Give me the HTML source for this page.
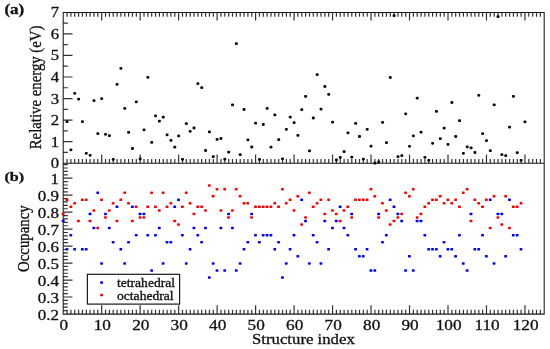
<!DOCTYPE html>
<html><head><meta charset="utf-8"><title>Structure index plot</title>
<style>html,body{margin:0;padding:0;background:#fff}svg{display:block;filter:blur(0.35px)}</style></head>
<body>
<svg width="550" height="349" viewBox="0 0 550 349">
<rect width="550" height="349" fill="#fff"/>
<path d="M67.05 12.4v4.3M67.05 163.2v-4.3M67.05 314.1v-4.3M70.90 12.4v4.3M70.90 163.2v-4.3M70.90 314.1v-4.3M74.74 12.4v4.3M74.74 163.2v-4.3M74.74 314.1v-4.3M78.59 12.4v4.3M78.59 163.2v-4.3M78.59 314.1v-4.3M82.44 12.4v4.3M82.44 163.2v-4.3M82.44 314.1v-4.3M86.29 12.4v4.3M86.29 163.2v-4.3M86.29 314.1v-4.3M90.14 12.4v4.3M90.14 163.2v-4.3M90.14 314.1v-4.3M93.98 12.4v4.3M93.98 163.2v-4.3M93.98 314.1v-4.3M97.83 12.4v4.3M97.83 163.2v-4.3M97.83 314.1v-4.3M101.68 12.4v8.200000000000001M101.68 163.2v-8.8M101.68 314.1v-8.8M105.53 12.4v4.3M105.53 163.2v-4.3M105.53 314.1v-4.3M109.38 12.4v4.3M109.38 163.2v-4.3M109.38 314.1v-4.3M113.22 12.4v4.3M113.22 163.2v-4.3M113.22 314.1v-4.3M117.07 12.4v4.3M117.07 163.2v-4.3M117.07 314.1v-4.3M120.92 12.4v4.3M120.92 163.2v-4.3M120.92 314.1v-4.3M124.77 12.4v4.3M124.77 163.2v-4.3M124.77 314.1v-4.3M128.62 12.4v4.3M128.62 163.2v-4.3M128.62 314.1v-4.3M132.46 12.4v4.3M132.46 163.2v-4.3M132.46 314.1v-4.3M136.31 12.4v4.3M136.31 163.2v-4.3M136.31 314.1v-4.3M140.16 12.4v8.200000000000001M140.16 163.2v-8.8M140.16 314.1v-8.8M144.01 12.4v4.3M144.01 163.2v-4.3M144.01 314.1v-4.3M147.86 12.4v4.3M147.86 163.2v-4.3M147.86 314.1v-4.3M151.70 12.4v4.3M151.70 163.2v-4.3M151.70 314.1v-4.3M155.55 12.4v4.3M155.55 163.2v-4.3M155.55 314.1v-4.3M159.40 12.4v4.3M159.40 163.2v-4.3M159.40 314.1v-4.3M163.25 12.4v4.3M163.25 163.2v-4.3M163.25 314.1v-4.3M167.10 12.4v4.3M167.10 163.2v-4.3M167.10 314.1v-4.3M170.94 12.4v4.3M170.94 163.2v-4.3M170.94 314.1v-4.3M174.79 12.4v4.3M174.79 163.2v-4.3M174.79 314.1v-4.3M178.64 12.4v8.200000000000001M178.64 163.2v-8.8M178.64 314.1v-8.8M182.49 12.4v4.3M182.49 163.2v-4.3M182.49 314.1v-4.3M186.34 12.4v4.3M186.34 163.2v-4.3M186.34 314.1v-4.3M190.18 12.4v4.3M190.18 163.2v-4.3M190.18 314.1v-4.3M194.03 12.4v4.3M194.03 163.2v-4.3M194.03 314.1v-4.3M197.88 12.4v4.3M197.88 163.2v-4.3M197.88 314.1v-4.3M201.73 12.4v4.3M201.73 163.2v-4.3M201.73 314.1v-4.3M205.58 12.4v4.3M205.58 163.2v-4.3M205.58 314.1v-4.3M209.42 12.4v4.3M209.42 163.2v-4.3M209.42 314.1v-4.3M213.27 12.4v4.3M213.27 163.2v-4.3M213.27 314.1v-4.3M217.12 12.4v8.200000000000001M217.12 163.2v-8.8M217.12 314.1v-8.8M220.97 12.4v4.3M220.97 163.2v-4.3M220.97 314.1v-4.3M224.82 12.4v4.3M224.82 163.2v-4.3M224.82 314.1v-4.3M228.66 12.4v4.3M228.66 163.2v-4.3M228.66 314.1v-4.3M232.51 12.4v4.3M232.51 163.2v-4.3M232.51 314.1v-4.3M236.36 12.4v4.3M236.36 163.2v-4.3M236.36 314.1v-4.3M240.21 12.4v4.3M240.21 163.2v-4.3M240.21 314.1v-4.3M244.06 12.4v4.3M244.06 163.2v-4.3M244.06 314.1v-4.3M247.90 12.4v4.3M247.90 163.2v-4.3M247.90 314.1v-4.3M251.75 12.4v4.3M251.75 163.2v-4.3M251.75 314.1v-4.3M255.60 12.4v8.200000000000001M255.60 163.2v-8.8M255.60 314.1v-8.8M259.45 12.4v4.3M259.45 163.2v-4.3M259.45 314.1v-4.3M263.30 12.4v4.3M263.30 163.2v-4.3M263.30 314.1v-4.3M267.14 12.4v4.3M267.14 163.2v-4.3M267.14 314.1v-4.3M270.99 12.4v4.3M270.99 163.2v-4.3M270.99 314.1v-4.3M274.84 12.4v4.3M274.84 163.2v-4.3M274.84 314.1v-4.3M278.69 12.4v4.3M278.69 163.2v-4.3M278.69 314.1v-4.3M282.54 12.4v4.3M282.54 163.2v-4.3M282.54 314.1v-4.3M286.38 12.4v4.3M286.38 163.2v-4.3M286.38 314.1v-4.3M290.23 12.4v4.3M290.23 163.2v-4.3M290.23 314.1v-4.3M294.08 12.4v8.200000000000001M294.08 163.2v-8.8M294.08 314.1v-8.8M297.93 12.4v4.3M297.93 163.2v-4.3M297.93 314.1v-4.3M301.78 12.4v4.3M301.78 163.2v-4.3M301.78 314.1v-4.3M305.62 12.4v4.3M305.62 163.2v-4.3M305.62 314.1v-4.3M309.47 12.4v4.3M309.47 163.2v-4.3M309.47 314.1v-4.3M313.32 12.4v4.3M313.32 163.2v-4.3M313.32 314.1v-4.3M317.17 12.4v4.3M317.17 163.2v-4.3M317.17 314.1v-4.3M321.02 12.4v4.3M321.02 163.2v-4.3M321.02 314.1v-4.3M324.86 12.4v4.3M324.86 163.2v-4.3M324.86 314.1v-4.3M328.71 12.4v4.3M328.71 163.2v-4.3M328.71 314.1v-4.3M332.56 12.4v8.200000000000001M332.56 163.2v-8.8M332.56 314.1v-8.8M336.41 12.4v4.3M336.41 163.2v-4.3M336.41 314.1v-4.3M340.26 12.4v4.3M340.26 163.2v-4.3M340.26 314.1v-4.3M344.10 12.4v4.3M344.10 163.2v-4.3M344.10 314.1v-4.3M347.95 12.4v4.3M347.95 163.2v-4.3M347.95 314.1v-4.3M351.80 12.4v4.3M351.80 163.2v-4.3M351.80 314.1v-4.3M355.65 12.4v4.3M355.65 163.2v-4.3M355.65 314.1v-4.3M359.50 12.4v4.3M359.50 163.2v-4.3M359.50 314.1v-4.3M363.34 12.4v4.3M363.34 163.2v-4.3M363.34 314.1v-4.3M367.19 12.4v4.3M367.19 163.2v-4.3M367.19 314.1v-4.3M371.04 12.4v8.200000000000001M371.04 163.2v-8.8M371.04 314.1v-8.8M374.89 12.4v4.3M374.89 163.2v-4.3M374.89 314.1v-4.3M378.74 12.4v4.3M378.74 163.2v-4.3M378.74 314.1v-4.3M382.58 12.4v4.3M382.58 163.2v-4.3M382.58 314.1v-4.3M386.43 12.4v4.3M386.43 163.2v-4.3M386.43 314.1v-4.3M390.28 12.4v4.3M390.28 163.2v-4.3M390.28 314.1v-4.3M394.13 12.4v4.3M394.13 163.2v-4.3M394.13 314.1v-4.3M397.98 12.4v4.3M397.98 163.2v-4.3M397.98 314.1v-4.3M401.82 12.4v4.3M401.82 163.2v-4.3M401.82 314.1v-4.3M405.67 12.4v4.3M405.67 163.2v-4.3M405.67 314.1v-4.3M409.52 12.4v8.200000000000001M409.52 163.2v-8.8M409.52 314.1v-8.8M413.37 12.4v4.3M413.37 163.2v-4.3M413.37 314.1v-4.3M417.22 12.4v4.3M417.22 163.2v-4.3M417.22 314.1v-4.3M421.06 12.4v4.3M421.06 163.2v-4.3M421.06 314.1v-4.3M424.91 12.4v4.3M424.91 163.2v-4.3M424.91 314.1v-4.3M428.76 12.4v4.3M428.76 163.2v-4.3M428.76 314.1v-4.3M432.61 12.4v4.3M432.61 163.2v-4.3M432.61 314.1v-4.3M436.46 12.4v4.3M436.46 163.2v-4.3M436.46 314.1v-4.3M440.30 12.4v4.3M440.30 163.2v-4.3M440.30 314.1v-4.3M444.15 12.4v4.3M444.15 163.2v-4.3M444.15 314.1v-4.3M448.00 12.4v8.200000000000001M448.00 163.2v-8.8M448.00 314.1v-8.8M451.85 12.4v4.3M451.85 163.2v-4.3M451.85 314.1v-4.3M455.70 12.4v4.3M455.70 163.2v-4.3M455.70 314.1v-4.3M459.54 12.4v4.3M459.54 163.2v-4.3M459.54 314.1v-4.3M463.39 12.4v4.3M463.39 163.2v-4.3M463.39 314.1v-4.3M467.24 12.4v4.3M467.24 163.2v-4.3M467.24 314.1v-4.3M471.09 12.4v4.3M471.09 163.2v-4.3M471.09 314.1v-4.3M474.94 12.4v4.3M474.94 163.2v-4.3M474.94 314.1v-4.3M478.78 12.4v4.3M478.78 163.2v-4.3M478.78 314.1v-4.3M482.63 12.4v4.3M482.63 163.2v-4.3M482.63 314.1v-4.3M486.48 12.4v8.200000000000001M486.48 163.2v-8.8M486.48 314.1v-8.8M490.33 12.4v4.3M490.33 163.2v-4.3M490.33 314.1v-4.3M494.18 12.4v4.3M494.18 163.2v-4.3M494.18 314.1v-4.3M498.02 12.4v4.3M498.02 163.2v-4.3M498.02 314.1v-4.3M501.87 12.4v4.3M501.87 163.2v-4.3M501.87 314.1v-4.3M505.72 12.4v4.3M505.72 163.2v-4.3M505.72 314.1v-4.3M509.57 12.4v4.3M509.57 163.2v-4.3M509.57 314.1v-4.3M513.42 12.4v4.3M513.42 163.2v-4.3M513.42 314.1v-4.3M517.26 12.4v4.3M517.26 163.2v-4.3M517.26 314.1v-4.3M521.11 12.4v4.3M521.11 163.2v-4.3M521.11 314.1v-4.3M524.96 12.4v8.200000000000001M524.96 163.2v-8.8M524.96 314.1v-8.8M528.81 12.4v4.3M528.81 163.2v-4.3M528.81 314.1v-4.3M532.66 12.4v4.3M532.66 163.2v-4.3M532.66 314.1v-4.3M536.50 12.4v4.3M536.50 163.2v-4.3M536.50 314.1v-4.3M540.35 12.4v4.3M540.35 163.2v-4.3M540.35 314.1v-4.3M63.2 152.42h4.6M63.2 141.65h9.3M63.2 130.88h4.6M63.2 120.10h9.3M63.2 109.32h4.6M63.2 98.55h9.3M63.2 87.77h4.6M63.2 77.00h9.3M63.2 66.22h4.6M63.2 55.45h9.3M63.2 44.67h4.6M63.2 33.90h9.3M63.2 23.12h4.6M63.2 310.61h4.6M63.2 307.21h4.6M63.2 303.81h4.6M63.2 300.42h4.6M63.2 297.02h9.3M63.2 293.63h4.6M63.2 290.23h4.6M63.2 286.84h4.6M63.2 283.44h4.6M63.2 280.05h9.3M63.2 276.65h4.6M63.2 273.26h4.6M63.2 269.87h4.6M63.2 266.47h4.6M63.2 263.07h9.3M63.2 259.68h4.6M63.2 256.28h4.6M63.2 252.89h4.6M63.2 249.49h4.6M63.2 246.10h9.3M63.2 242.70h4.6M63.2 239.31h4.6M63.2 235.91h4.6M63.2 232.52h4.6M63.2 229.12h9.3M63.2 225.73h4.6M63.2 222.33h4.6M63.2 218.94h4.6M63.2 215.54h4.6M63.2 212.15h9.3M63.2 208.75h4.6M63.2 205.36h4.6M63.2 201.96h4.6M63.2 198.57h4.6M63.2 195.17h9.3M63.2 191.78h4.6M63.2 188.38h4.6M63.2 184.99h4.6M63.2 181.59h4.6M63.2 178.20h9.3M63.2 174.80h4.6M63.2 171.41h4.6M63.2 168.01h4.6M63.2 164.62h4.6" stroke="#333" stroke-width="1.2" fill="none"/>
<path d="M63.2 12.4H544.2V314.1H63.2Z M63.2 163.2H544.2" stroke="#1a1a1a" stroke-width="1.05" fill="none"/>
<rect x="65.55" y="120.30" width="3.0" height="2.8" rx="1.1" fill="#0a0a0a"/>
<rect x="69.40" y="148.40" width="3.0" height="2.8" rx="1.1" fill="#0a0a0a"/>
<rect x="73.24" y="91.90" width="3.0" height="2.8" rx="1.1" fill="#0a0a0a"/>
<rect x="77.09" y="97.80" width="3.0" height="2.8" rx="1.1" fill="#0a0a0a"/>
<rect x="80.94" y="120.30" width="3.0" height="2.8" rx="1.1" fill="#0a0a0a"/>
<rect x="84.79" y="151.90" width="3.0" height="2.8" rx="1.1" fill="#0a0a0a"/>
<rect x="88.64" y="153.90" width="3.0" height="2.8" rx="1.1" fill="#0a0a0a"/>
<rect x="92.48" y="99.30" width="3.0" height="2.8" rx="1.1" fill="#0a0a0a"/>
<rect x="96.33" y="132.30" width="3.0" height="2.8" rx="1.1" fill="#0a0a0a"/>
<rect x="100.18" y="97.20" width="3.0" height="2.8" rx="1.1" fill="#0a0a0a"/>
<rect x="104.03" y="132.90" width="3.0" height="2.8" rx="1.1" fill="#0a0a0a"/>
<rect x="107.88" y="134.20" width="3.0" height="2.8" rx="1.1" fill="#0a0a0a"/>
<rect x="111.72" y="158.00" width="3.0" height="2.8" rx="1.1" fill="#0a0a0a"/>
<rect x="115.57" y="82.90" width="3.0" height="2.8" rx="1.1" fill="#0a0a0a"/>
<rect x="119.42" y="67.00" width="3.0" height="2.8" rx="1.1" fill="#0a0a0a"/>
<rect x="123.27" y="107.00" width="3.0" height="2.8" rx="1.1" fill="#0a0a0a"/>
<rect x="127.12" y="131.00" width="3.0" height="2.8" rx="1.1" fill="#0a0a0a"/>
<rect x="130.96" y="147.10" width="3.0" height="2.8" rx="1.1" fill="#0a0a0a"/>
<rect x="134.81" y="100.40" width="3.0" height="2.8" rx="1.1" fill="#0a0a0a"/>
<rect x="138.66" y="157.60" width="3.0" height="2.8" rx="1.1" fill="#0a0a0a"/>
<rect x="142.51" y="128.40" width="3.0" height="2.8" rx="1.1" fill="#0a0a0a"/>
<rect x="146.36" y="75.90" width="3.0" height="2.8" rx="1.1" fill="#0a0a0a"/>
<rect x="150.20" y="141.00" width="3.0" height="2.8" rx="1.1" fill="#0a0a0a"/>
<rect x="154.05" y="114.40" width="3.0" height="2.8" rx="1.1" fill="#0a0a0a"/>
<rect x="157.90" y="119.80" width="3.0" height="2.8" rx="1.1" fill="#0a0a0a"/>
<rect x="161.75" y="115.70" width="3.0" height="2.8" rx="1.1" fill="#0a0a0a"/>
<rect x="165.60" y="133.40" width="3.0" height="2.8" rx="1.1" fill="#0a0a0a"/>
<rect x="169.44" y="139.00" width="3.0" height="2.8" rx="1.1" fill="#0a0a0a"/>
<rect x="173.29" y="145.80" width="3.0" height="2.8" rx="1.1" fill="#0a0a0a"/>
<rect x="177.14" y="134.50" width="3.0" height="2.8" rx="1.1" fill="#0a0a0a"/>
<rect x="180.99" y="158.00" width="3.0" height="2.8" rx="1.1" fill="#0a0a0a"/>
<rect x="184.84" y="122.20" width="3.0" height="2.8" rx="1.1" fill="#0a0a0a"/>
<rect x="188.68" y="129.90" width="3.0" height="2.8" rx="1.1" fill="#0a0a0a"/>
<rect x="192.53" y="126.60" width="3.0" height="2.8" rx="1.1" fill="#0a0a0a"/>
<rect x="196.38" y="82.20" width="3.0" height="2.8" rx="1.1" fill="#0a0a0a"/>
<rect x="200.23" y="86.20" width="3.0" height="2.8" rx="1.1" fill="#0a0a0a"/>
<rect x="204.08" y="149.10" width="3.0" height="2.8" rx="1.1" fill="#0a0a0a"/>
<rect x="207.92" y="130.50" width="3.0" height="2.8" rx="1.1" fill="#0a0a0a"/>
<rect x="211.77" y="155.20" width="3.0" height="2.8" rx="1.1" fill="#0a0a0a"/>
<rect x="215.62" y="138.00" width="3.0" height="2.8" rx="1.1" fill="#0a0a0a"/>
<rect x="219.47" y="137.10" width="3.0" height="2.8" rx="1.1" fill="#0a0a0a"/>
<rect x="223.32" y="157.80" width="3.0" height="2.8" rx="1.1" fill="#0a0a0a"/>
<rect x="227.16" y="150.80" width="3.0" height="2.8" rx="1.1" fill="#0a0a0a"/>
<rect x="231.01" y="103.50" width="3.0" height="2.8" rx="1.1" fill="#0a0a0a"/>
<rect x="234.86" y="42.30" width="3.0" height="2.8" rx="1.1" fill="#0a0a0a"/>
<rect x="238.71" y="153.20" width="3.0" height="2.8" rx="1.1" fill="#0a0a0a"/>
<rect x="242.56" y="108.10" width="3.0" height="2.8" rx="1.1" fill="#0a0a0a"/>
<rect x="246.40" y="138.40" width="3.0" height="2.8" rx="1.1" fill="#0a0a0a"/>
<rect x="250.25" y="145.60" width="3.0" height="2.8" rx="1.1" fill="#0a0a0a"/>
<rect x="254.10" y="121.80" width="3.0" height="2.8" rx="1.1" fill="#0a0a0a"/>
<rect x="257.95" y="158.00" width="3.0" height="2.8" rx="1.1" fill="#0a0a0a"/>
<rect x="261.80" y="123.10" width="3.0" height="2.8" rx="1.1" fill="#0a0a0a"/>
<rect x="265.64" y="107.00" width="3.0" height="2.8" rx="1.1" fill="#0a0a0a"/>
<rect x="269.49" y="145.80" width="3.0" height="2.8" rx="1.1" fill="#0a0a0a"/>
<rect x="273.34" y="113.50" width="3.0" height="2.8" rx="1.1" fill="#0a0a0a"/>
<rect x="277.19" y="138.20" width="3.0" height="2.8" rx="1.1" fill="#0a0a0a"/>
<rect x="281.04" y="157.40" width="3.0" height="2.8" rx="1.1" fill="#0a0a0a"/>
<rect x="284.88" y="127.90" width="3.0" height="2.8" rx="1.1" fill="#0a0a0a"/>
<rect x="288.73" y="115.70" width="3.0" height="2.8" rx="1.1" fill="#0a0a0a"/>
<rect x="292.58" y="121.20" width="3.0" height="2.8" rx="1.1" fill="#0a0a0a"/>
<rect x="296.43" y="134.00" width="3.0" height="2.8" rx="1.1" fill="#0a0a0a"/>
<rect x="300.28" y="108.30" width="3.0" height="2.8" rx="1.1" fill="#0a0a0a"/>
<rect x="304.12" y="95.00" width="3.0" height="2.8" rx="1.1" fill="#0a0a0a"/>
<rect x="307.97" y="149.50" width="3.0" height="2.8" rx="1.1" fill="#0a0a0a"/>
<rect x="311.82" y="116.60" width="3.0" height="2.8" rx="1.1" fill="#0a0a0a"/>
<rect x="315.67" y="73.30" width="3.0" height="2.8" rx="1.1" fill="#0a0a0a"/>
<rect x="319.52" y="107.80" width="3.0" height="2.8" rx="1.1" fill="#0a0a0a"/>
<rect x="323.36" y="85.10" width="3.0" height="2.8" rx="1.1" fill="#0a0a0a"/>
<rect x="327.21" y="93.00" width="3.0" height="2.8" rx="1.1" fill="#0a0a0a"/>
<rect x="331.06" y="120.70" width="3.0" height="2.8" rx="1.1" fill="#0a0a0a"/>
<rect x="334.91" y="158.60" width="3.0" height="2.8" rx="1.1" fill="#0a0a0a"/>
<rect x="338.76" y="156.10" width="3.0" height="2.8" rx="1.1" fill="#0a0a0a"/>
<rect x="342.60" y="150.20" width="3.0" height="2.8" rx="1.1" fill="#0a0a0a"/>
<rect x="346.45" y="131.40" width="3.0" height="2.8" rx="1.1" fill="#0a0a0a"/>
<rect x="350.30" y="155.80" width="3.0" height="2.8" rx="1.1" fill="#0a0a0a"/>
<rect x="354.15" y="122.00" width="3.0" height="2.8" rx="1.1" fill="#0a0a0a"/>
<rect x="358.00" y="135.10" width="3.0" height="2.8" rx="1.1" fill="#0a0a0a"/>
<rect x="361.84" y="157.70" width="3.0" height="2.8" rx="1.1" fill="#0a0a0a"/>
<rect x="365.69" y="127.90" width="3.0" height="2.8" rx="1.1" fill="#0a0a0a"/>
<rect x="369.54" y="144.80" width="3.0" height="2.8" rx="1.1" fill="#0a0a0a"/>
<rect x="373.39" y="161.80" width="3.0" height="2.8" rx="1.1" fill="#0a0a0a"/>
<rect x="377.24" y="160.40" width="3.0" height="2.8" rx="1.1" fill="#0a0a0a"/>
<rect x="381.08" y="121.00" width="3.0" height="2.8" rx="1.1" fill="#0a0a0a"/>
<rect x="384.93" y="141.30" width="3.0" height="2.8" rx="1.1" fill="#0a0a0a"/>
<rect x="388.78" y="76.10" width="3.0" height="2.8" rx="1.1" fill="#0a0a0a"/>
<rect x="392.63" y="14.20" width="3.0" height="2.8" rx="1.1" fill="#0a0a0a"/>
<rect x="396.48" y="155.30" width="3.0" height="2.8" rx="1.1" fill="#0a0a0a"/>
<rect x="400.32" y="154.20" width="3.0" height="2.8" rx="1.1" fill="#0a0a0a"/>
<rect x="404.17" y="112.40" width="3.0" height="2.8" rx="1.1" fill="#0a0a0a"/>
<rect x="408.02" y="144.90" width="3.0" height="2.8" rx="1.1" fill="#0a0a0a"/>
<rect x="411.87" y="134.40" width="3.0" height="2.8" rx="1.1" fill="#0a0a0a"/>
<rect x="415.72" y="96.70" width="3.0" height="2.8" rx="1.1" fill="#0a0a0a"/>
<rect x="419.56" y="130.70" width="3.0" height="2.8" rx="1.1" fill="#0a0a0a"/>
<rect x="423.41" y="155.90" width="3.0" height="2.8" rx="1.1" fill="#0a0a0a"/>
<rect x="427.26" y="158.90" width="3.0" height="2.8" rx="1.1" fill="#0a0a0a"/>
<rect x="431.11" y="141.90" width="3.0" height="2.8" rx="1.1" fill="#0a0a0a"/>
<rect x="434.96" y="110.00" width="3.0" height="2.8" rx="1.1" fill="#0a0a0a"/>
<rect x="438.80" y="137.20" width="3.0" height="2.8" rx="1.1" fill="#0a0a0a"/>
<rect x="442.65" y="126.80" width="3.0" height="2.8" rx="1.1" fill="#0a0a0a"/>
<rect x="446.50" y="143.00" width="3.0" height="2.8" rx="1.1" fill="#0a0a0a"/>
<rect x="450.35" y="101.10" width="3.0" height="2.8" rx="1.1" fill="#0a0a0a"/>
<rect x="454.20" y="135.10" width="3.0" height="2.8" rx="1.1" fill="#0a0a0a"/>
<rect x="458.04" y="119.20" width="3.0" height="2.8" rx="1.1" fill="#0a0a0a"/>
<rect x="461.89" y="151.90" width="3.0" height="2.8" rx="1.1" fill="#0a0a0a"/>
<rect x="465.74" y="145.40" width="3.0" height="2.8" rx="1.1" fill="#0a0a0a"/>
<rect x="469.59" y="146.50" width="3.0" height="2.8" rx="1.1" fill="#0a0a0a"/>
<rect x="473.44" y="151.10" width="3.0" height="2.8" rx="1.1" fill="#0a0a0a"/>
<rect x="477.28" y="93.90" width="3.0" height="2.8" rx="1.1" fill="#0a0a0a"/>
<rect x="481.13" y="132.30" width="3.0" height="2.8" rx="1.1" fill="#0a0a0a"/>
<rect x="484.98" y="139.30" width="3.0" height="2.8" rx="1.1" fill="#0a0a0a"/>
<rect x="488.83" y="149.30" width="3.0" height="2.8" rx="1.1" fill="#0a0a0a"/>
<rect x="492.68" y="103.50" width="3.0" height="2.8" rx="1.1" fill="#0a0a0a"/>
<rect x="496.52" y="15.30" width="3.0" height="2.8" rx="1.1" fill="#0a0a0a"/>
<rect x="500.37" y="153.20" width="3.0" height="2.8" rx="1.1" fill="#0a0a0a"/>
<rect x="504.22" y="154.30" width="3.0" height="2.8" rx="1.1" fill="#0a0a0a"/>
<rect x="508.07" y="125.70" width="3.0" height="2.8" rx="1.1" fill="#0a0a0a"/>
<rect x="511.92" y="95.00" width="3.0" height="2.8" rx="1.1" fill="#0a0a0a"/>
<rect x="515.76" y="151.30" width="3.0" height="2.8" rx="1.1" fill="#0a0a0a"/>
<rect x="519.61" y="158.90" width="3.0" height="2.8" rx="1.1" fill="#0a0a0a"/>
<rect x="523.46" y="120.50" width="3.0" height="2.8" rx="1.1" fill="#0a0a0a"/>
<rect x="61.70" y="219.74" width="2.8" height="2.5" rx="0.6" fill="#0000ff"/>
<rect x="65.55" y="248.03" width="2.8" height="2.5" rx="0.6" fill="#0000ff"/>
<rect x="69.40" y="233.88" width="2.8" height="2.5" rx="0.6" fill="#0000ff"/>
<rect x="73.24" y="248.03" width="2.8" height="2.5" rx="0.6" fill="#0000ff"/>
<rect x="80.94" y="248.03" width="2.8" height="2.5" rx="0.6" fill="#0000ff"/>
<rect x="84.79" y="248.03" width="2.8" height="2.5" rx="0.6" fill="#0000ff"/>
<rect x="88.64" y="212.66" width="2.8" height="2.5" rx="0.6" fill="#0000ff"/>
<rect x="92.48" y="226.81" width="2.8" height="2.5" rx="0.6" fill="#0000ff"/>
<rect x="96.33" y="191.45" width="2.8" height="2.5" rx="0.6" fill="#0000ff"/>
<rect x="100.18" y="262.18" width="2.8" height="2.5" rx="0.6" fill="#0000ff"/>
<rect x="104.03" y="212.66" width="2.8" height="2.5" rx="0.6" fill="#0000ff"/>
<rect x="107.88" y="226.81" width="2.8" height="2.5" rx="0.6" fill="#0000ff"/>
<rect x="111.72" y="240.96" width="2.8" height="2.5" rx="0.6" fill="#0000ff"/>
<rect x="115.57" y="205.59" width="2.8" height="2.5" rx="0.6" fill="#0000ff"/>
<rect x="119.42" y="248.03" width="2.8" height="2.5" rx="0.6" fill="#0000ff"/>
<rect x="123.27" y="262.18" width="2.8" height="2.5" rx="0.6" fill="#0000ff"/>
<rect x="127.12" y="240.96" width="2.8" height="2.5" rx="0.6" fill="#0000ff"/>
<rect x="130.96" y="205.59" width="2.8" height="2.5" rx="0.6" fill="#0000ff"/>
<rect x="134.81" y="233.88" width="2.8" height="2.5" rx="0.6" fill="#0000ff"/>
<rect x="138.66" y="212.66" width="2.8" height="2.5" rx="0.6" fill="#0000ff"/>
<rect x="142.51" y="212.66" width="2.8" height="2.5" rx="0.6" fill="#0000ff"/>
<rect x="146.36" y="233.88" width="2.8" height="2.5" rx="0.6" fill="#0000ff"/>
<rect x="150.20" y="269.25" width="2.8" height="2.5" rx="0.6" fill="#0000ff"/>
<rect x="154.05" y="233.88" width="2.8" height="2.5" rx="0.6" fill="#0000ff"/>
<rect x="157.90" y="226.81" width="2.8" height="2.5" rx="0.6" fill="#0000ff"/>
<rect x="161.75" y="262.18" width="2.8" height="2.5" rx="0.6" fill="#0000ff"/>
<rect x="165.60" y="240.96" width="2.8" height="2.5" rx="0.6" fill="#0000ff"/>
<rect x="169.44" y="240.96" width="2.8" height="2.5" rx="0.6" fill="#0000ff"/>
<rect x="173.29" y="205.59" width="2.8" height="2.5" rx="0.6" fill="#0000ff"/>
<rect x="177.14" y="198.52" width="2.8" height="2.5" rx="0.6" fill="#0000ff"/>
<rect x="180.99" y="233.88" width="2.8" height="2.5" rx="0.6" fill="#0000ff"/>
<rect x="184.84" y="262.18" width="2.8" height="2.5" rx="0.6" fill="#0000ff"/>
<rect x="188.68" y="248.03" width="2.8" height="2.5" rx="0.6" fill="#0000ff"/>
<rect x="192.53" y="226.81" width="2.8" height="2.5" rx="0.6" fill="#0000ff"/>
<rect x="196.38" y="233.88" width="2.8" height="2.5" rx="0.6" fill="#0000ff"/>
<rect x="200.23" y="240.96" width="2.8" height="2.5" rx="0.6" fill="#0000ff"/>
<rect x="204.08" y="226.81" width="2.8" height="2.5" rx="0.6" fill="#0000ff"/>
<rect x="207.92" y="276.32" width="2.8" height="2.5" rx="0.6" fill="#0000ff"/>
<rect x="211.77" y="262.18" width="2.8" height="2.5" rx="0.6" fill="#0000ff"/>
<rect x="215.62" y="269.25" width="2.8" height="2.5" rx="0.6" fill="#0000ff"/>
<rect x="219.47" y="226.81" width="2.8" height="2.5" rx="0.6" fill="#0000ff"/>
<rect x="223.32" y="269.25" width="2.8" height="2.5" rx="0.6" fill="#0000ff"/>
<rect x="227.16" y="212.66" width="2.8" height="2.5" rx="0.6" fill="#0000ff"/>
<rect x="231.01" y="226.81" width="2.8" height="2.5" rx="0.6" fill="#0000ff"/>
<rect x="234.86" y="269.25" width="2.8" height="2.5" rx="0.6" fill="#0000ff"/>
<rect x="238.71" y="262.18" width="2.8" height="2.5" rx="0.6" fill="#0000ff"/>
<rect x="242.56" y="248.03" width="2.8" height="2.5" rx="0.6" fill="#0000ff"/>
<rect x="246.40" y="240.96" width="2.8" height="2.5" rx="0.6" fill="#0000ff"/>
<rect x="250.25" y="212.66" width="2.8" height="2.5" rx="0.6" fill="#0000ff"/>
<rect x="254.10" y="233.88" width="2.8" height="2.5" rx="0.6" fill="#0000ff"/>
<rect x="257.95" y="240.96" width="2.8" height="2.5" rx="0.6" fill="#0000ff"/>
<rect x="261.80" y="233.88" width="2.8" height="2.5" rx="0.6" fill="#0000ff"/>
<rect x="265.64" y="233.88" width="2.8" height="2.5" rx="0.6" fill="#0000ff"/>
<rect x="269.49" y="233.88" width="2.8" height="2.5" rx="0.6" fill="#0000ff"/>
<rect x="273.34" y="248.03" width="2.8" height="2.5" rx="0.6" fill="#0000ff"/>
<rect x="277.19" y="240.96" width="2.8" height="2.5" rx="0.6" fill="#0000ff"/>
<rect x="281.04" y="276.32" width="2.8" height="2.5" rx="0.6" fill="#0000ff"/>
<rect x="284.88" y="262.18" width="2.8" height="2.5" rx="0.6" fill="#0000ff"/>
<rect x="288.73" y="248.03" width="2.8" height="2.5" rx="0.6" fill="#0000ff"/>
<rect x="292.58" y="233.88" width="2.8" height="2.5" rx="0.6" fill="#0000ff"/>
<rect x="296.43" y="255.10" width="2.8" height="2.5" rx="0.6" fill="#0000ff"/>
<rect x="300.28" y="198.52" width="2.8" height="2.5" rx="0.6" fill="#0000ff"/>
<rect x="304.12" y="219.74" width="2.8" height="2.5" rx="0.6" fill="#0000ff"/>
<rect x="307.97" y="262.18" width="2.8" height="2.5" rx="0.6" fill="#0000ff"/>
<rect x="311.82" y="233.88" width="2.8" height="2.5" rx="0.6" fill="#0000ff"/>
<rect x="315.67" y="240.96" width="2.8" height="2.5" rx="0.6" fill="#0000ff"/>
<rect x="319.52" y="262.18" width="2.8" height="2.5" rx="0.6" fill="#0000ff"/>
<rect x="323.36" y="219.74" width="2.8" height="2.5" rx="0.6" fill="#0000ff"/>
<rect x="327.21" y="248.03" width="2.8" height="2.5" rx="0.6" fill="#0000ff"/>
<rect x="331.06" y="226.81" width="2.8" height="2.5" rx="0.6" fill="#0000ff"/>
<rect x="334.91" y="219.74" width="2.8" height="2.5" rx="0.6" fill="#0000ff"/>
<rect x="338.76" y="205.59" width="2.8" height="2.5" rx="0.6" fill="#0000ff"/>
<rect x="342.60" y="226.81" width="2.8" height="2.5" rx="0.6" fill="#0000ff"/>
<rect x="346.45" y="233.88" width="2.8" height="2.5" rx="0.6" fill="#0000ff"/>
<rect x="350.30" y="212.66" width="2.8" height="2.5" rx="0.6" fill="#0000ff"/>
<rect x="354.15" y="248.03" width="2.8" height="2.5" rx="0.6" fill="#0000ff"/>
<rect x="358.00" y="255.10" width="2.8" height="2.5" rx="0.6" fill="#0000ff"/>
<rect x="361.84" y="255.10" width="2.8" height="2.5" rx="0.6" fill="#0000ff"/>
<rect x="365.69" y="248.03" width="2.8" height="2.5" rx="0.6" fill="#0000ff"/>
<rect x="369.54" y="269.25" width="2.8" height="2.5" rx="0.6" fill="#0000ff"/>
<rect x="373.39" y="269.25" width="2.8" height="2.5" rx="0.6" fill="#0000ff"/>
<rect x="377.24" y="212.66" width="2.8" height="2.5" rx="0.6" fill="#0000ff"/>
<rect x="381.08" y="240.96" width="2.8" height="2.5" rx="0.6" fill="#0000ff"/>
<rect x="384.93" y="233.88" width="2.8" height="2.5" rx="0.6" fill="#0000ff"/>
<rect x="388.78" y="198.52" width="2.8" height="2.5" rx="0.6" fill="#0000ff"/>
<rect x="392.63" y="205.59" width="2.8" height="2.5" rx="0.6" fill="#0000ff"/>
<rect x="396.48" y="212.66" width="2.8" height="2.5" rx="0.6" fill="#0000ff"/>
<rect x="400.32" y="219.74" width="2.8" height="2.5" rx="0.6" fill="#0000ff"/>
<rect x="404.17" y="269.25" width="2.8" height="2.5" rx="0.6" fill="#0000ff"/>
<rect x="408.02" y="255.10" width="2.8" height="2.5" rx="0.6" fill="#0000ff"/>
<rect x="411.87" y="269.25" width="2.8" height="2.5" rx="0.6" fill="#0000ff"/>
<rect x="415.72" y="219.74" width="2.8" height="2.5" rx="0.6" fill="#0000ff"/>
<rect x="419.56" y="219.74" width="2.8" height="2.5" rx="0.6" fill="#0000ff"/>
<rect x="423.41" y="233.88" width="2.8" height="2.5" rx="0.6" fill="#0000ff"/>
<rect x="427.26" y="248.03" width="2.8" height="2.5" rx="0.6" fill="#0000ff"/>
<rect x="431.11" y="248.03" width="2.8" height="2.5" rx="0.6" fill="#0000ff"/>
<rect x="434.96" y="248.03" width="2.8" height="2.5" rx="0.6" fill="#0000ff"/>
<rect x="438.80" y="255.10" width="2.8" height="2.5" rx="0.6" fill="#0000ff"/>
<rect x="442.65" y="240.96" width="2.8" height="2.5" rx="0.6" fill="#0000ff"/>
<rect x="446.50" y="248.03" width="2.8" height="2.5" rx="0.6" fill="#0000ff"/>
<rect x="450.35" y="248.03" width="2.8" height="2.5" rx="0.6" fill="#0000ff"/>
<rect x="454.20" y="255.10" width="2.8" height="2.5" rx="0.6" fill="#0000ff"/>
<rect x="458.04" y="233.88" width="2.8" height="2.5" rx="0.6" fill="#0000ff"/>
<rect x="461.89" y="262.18" width="2.8" height="2.5" rx="0.6" fill="#0000ff"/>
<rect x="465.74" y="269.25" width="2.8" height="2.5" rx="0.6" fill="#0000ff"/>
<rect x="469.59" y="212.66" width="2.8" height="2.5" rx="0.6" fill="#0000ff"/>
<rect x="473.44" y="248.03" width="2.8" height="2.5" rx="0.6" fill="#0000ff"/>
<rect x="477.28" y="248.03" width="2.8" height="2.5" rx="0.6" fill="#0000ff"/>
<rect x="481.13" y="233.88" width="2.8" height="2.5" rx="0.6" fill="#0000ff"/>
<rect x="484.98" y="255.10" width="2.8" height="2.5" rx="0.6" fill="#0000ff"/>
<rect x="488.83" y="198.52" width="2.8" height="2.5" rx="0.6" fill="#0000ff"/>
<rect x="492.68" y="262.18" width="2.8" height="2.5" rx="0.6" fill="#0000ff"/>
<rect x="496.52" y="212.66" width="2.8" height="2.5" rx="0.6" fill="#0000ff"/>
<rect x="500.37" y="212.66" width="2.8" height="2.5" rx="0.6" fill="#0000ff"/>
<rect x="504.22" y="255.10" width="2.8" height="2.5" rx="0.6" fill="#0000ff"/>
<rect x="508.07" y="198.52" width="2.8" height="2.5" rx="0.6" fill="#0000ff"/>
<rect x="511.92" y="233.88" width="2.8" height="2.5" rx="0.6" fill="#0000ff"/>
<rect x="515.76" y="233.88" width="2.8" height="2.5" rx="0.6" fill="#0000ff"/>
<rect x="519.61" y="248.03" width="2.8" height="2.5" rx="0.6" fill="#0000ff"/>
<rect x="61.70" y="212.66" width="2.8" height="2.5" rx="0.6" fill="#ff0000"/>
<rect x="65.55" y="198.52" width="2.8" height="2.5" rx="0.6" fill="#ff0000"/>
<rect x="69.40" y="205.59" width="2.8" height="2.5" rx="0.6" fill="#ff0000"/>
<rect x="73.24" y="202.06" width="2.8" height="2.5" rx="0.6" fill="#ff0000"/>
<rect x="77.09" y="219.74" width="2.8" height="2.5" rx="0.6" fill="#ff0000"/>
<rect x="80.94" y="198.52" width="2.8" height="2.5" rx="0.6" fill="#ff0000"/>
<rect x="84.79" y="198.52" width="2.8" height="2.5" rx="0.6" fill="#ff0000"/>
<rect x="88.64" y="219.74" width="2.8" height="2.5" rx="0.6" fill="#ff0000"/>
<rect x="92.48" y="209.13" width="2.8" height="2.5" rx="0.6" fill="#ff0000"/>
<rect x="96.33" y="226.81" width="2.8" height="2.5" rx="0.6" fill="#ff0000"/>
<rect x="100.18" y="198.52" width="2.8" height="2.5" rx="0.6" fill="#ff0000"/>
<rect x="104.03" y="216.20" width="2.8" height="2.5" rx="0.6" fill="#ff0000"/>
<rect x="107.88" y="209.13" width="2.8" height="2.5" rx="0.6" fill="#ff0000"/>
<rect x="111.72" y="202.06" width="2.8" height="2.5" rx="0.6" fill="#ff0000"/>
<rect x="115.57" y="219.74" width="2.8" height="2.5" rx="0.6" fill="#ff0000"/>
<rect x="119.42" y="198.52" width="2.8" height="2.5" rx="0.6" fill="#ff0000"/>
<rect x="123.27" y="191.45" width="2.8" height="2.5" rx="0.6" fill="#ff0000"/>
<rect x="127.12" y="202.06" width="2.8" height="2.5" rx="0.6" fill="#ff0000"/>
<rect x="130.96" y="219.74" width="2.8" height="2.5" rx="0.6" fill="#ff0000"/>
<rect x="134.81" y="205.59" width="2.8" height="2.5" rx="0.6" fill="#ff0000"/>
<rect x="138.66" y="216.20" width="2.8" height="2.5" rx="0.6" fill="#ff0000"/>
<rect x="142.51" y="216.20" width="2.8" height="2.5" rx="0.6" fill="#ff0000"/>
<rect x="146.36" y="205.59" width="2.8" height="2.5" rx="0.6" fill="#ff0000"/>
<rect x="150.20" y="191.45" width="2.8" height="2.5" rx="0.6" fill="#ff0000"/>
<rect x="154.05" y="205.59" width="2.8" height="2.5" rx="0.6" fill="#ff0000"/>
<rect x="157.90" y="209.13" width="2.8" height="2.5" rx="0.6" fill="#ff0000"/>
<rect x="161.75" y="191.45" width="2.8" height="2.5" rx="0.6" fill="#ff0000"/>
<rect x="165.60" y="205.59" width="2.8" height="2.5" rx="0.6" fill="#ff0000"/>
<rect x="169.44" y="202.06" width="2.8" height="2.5" rx="0.6" fill="#ff0000"/>
<rect x="173.29" y="219.74" width="2.8" height="2.5" rx="0.6" fill="#ff0000"/>
<rect x="177.14" y="223.27" width="2.8" height="2.5" rx="0.6" fill="#ff0000"/>
<rect x="180.99" y="205.59" width="2.8" height="2.5" rx="0.6" fill="#ff0000"/>
<rect x="184.84" y="191.45" width="2.8" height="2.5" rx="0.6" fill="#ff0000"/>
<rect x="188.68" y="202.06" width="2.8" height="2.5" rx="0.6" fill="#ff0000"/>
<rect x="192.53" y="212.66" width="2.8" height="2.5" rx="0.6" fill="#ff0000"/>
<rect x="196.38" y="205.59" width="2.8" height="2.5" rx="0.6" fill="#ff0000"/>
<rect x="200.23" y="205.59" width="2.8" height="2.5" rx="0.6" fill="#ff0000"/>
<rect x="204.08" y="209.13" width="2.8" height="2.5" rx="0.6" fill="#ff0000"/>
<rect x="207.92" y="184.37" width="2.8" height="2.5" rx="0.6" fill="#ff0000"/>
<rect x="211.77" y="194.98" width="2.8" height="2.5" rx="0.6" fill="#ff0000"/>
<rect x="215.62" y="187.91" width="2.8" height="2.5" rx="0.6" fill="#ff0000"/>
<rect x="219.47" y="209.13" width="2.8" height="2.5" rx="0.6" fill="#ff0000"/>
<rect x="223.32" y="187.91" width="2.8" height="2.5" rx="0.6" fill="#ff0000"/>
<rect x="227.16" y="216.20" width="2.8" height="2.5" rx="0.6" fill="#ff0000"/>
<rect x="231.01" y="209.13" width="2.8" height="2.5" rx="0.6" fill="#ff0000"/>
<rect x="234.86" y="187.91" width="2.8" height="2.5" rx="0.6" fill="#ff0000"/>
<rect x="238.71" y="194.98" width="2.8" height="2.5" rx="0.6" fill="#ff0000"/>
<rect x="242.56" y="202.06" width="2.8" height="2.5" rx="0.6" fill="#ff0000"/>
<rect x="246.40" y="202.06" width="2.8" height="2.5" rx="0.6" fill="#ff0000"/>
<rect x="250.25" y="216.20" width="2.8" height="2.5" rx="0.6" fill="#ff0000"/>
<rect x="254.10" y="205.59" width="2.8" height="2.5" rx="0.6" fill="#ff0000"/>
<rect x="257.95" y="205.59" width="2.8" height="2.5" rx="0.6" fill="#ff0000"/>
<rect x="261.80" y="205.59" width="2.8" height="2.5" rx="0.6" fill="#ff0000"/>
<rect x="265.64" y="205.59" width="2.8" height="2.5" rx="0.6" fill="#ff0000"/>
<rect x="269.49" y="205.59" width="2.8" height="2.5" rx="0.6" fill="#ff0000"/>
<rect x="273.34" y="202.06" width="2.8" height="2.5" rx="0.6" fill="#ff0000"/>
<rect x="277.19" y="205.59" width="2.8" height="2.5" rx="0.6" fill="#ff0000"/>
<rect x="281.04" y="187.91" width="2.8" height="2.5" rx="0.6" fill="#ff0000"/>
<rect x="284.88" y="202.06" width="2.8" height="2.5" rx="0.6" fill="#ff0000"/>
<rect x="288.73" y="198.52" width="2.8" height="2.5" rx="0.6" fill="#ff0000"/>
<rect x="292.58" y="209.13" width="2.8" height="2.5" rx="0.6" fill="#ff0000"/>
<rect x="296.43" y="194.98" width="2.8" height="2.5" rx="0.6" fill="#ff0000"/>
<rect x="300.28" y="223.27" width="2.8" height="2.5" rx="0.6" fill="#ff0000"/>
<rect x="304.12" y="216.20" width="2.8" height="2.5" rx="0.6" fill="#ff0000"/>
<rect x="307.97" y="191.45" width="2.8" height="2.5" rx="0.6" fill="#ff0000"/>
<rect x="311.82" y="205.59" width="2.8" height="2.5" rx="0.6" fill="#ff0000"/>
<rect x="315.67" y="202.06" width="2.8" height="2.5" rx="0.6" fill="#ff0000"/>
<rect x="319.52" y="198.52" width="2.8" height="2.5" rx="0.6" fill="#ff0000"/>
<rect x="323.36" y="212.66" width="2.8" height="2.5" rx="0.6" fill="#ff0000"/>
<rect x="327.21" y="198.52" width="2.8" height="2.5" rx="0.6" fill="#ff0000"/>
<rect x="331.06" y="209.13" width="2.8" height="2.5" rx="0.6" fill="#ff0000"/>
<rect x="334.91" y="212.66" width="2.8" height="2.5" rx="0.6" fill="#ff0000"/>
<rect x="338.76" y="219.74" width="2.8" height="2.5" rx="0.6" fill="#ff0000"/>
<rect x="342.60" y="209.13" width="2.8" height="2.5" rx="0.6" fill="#ff0000"/>
<rect x="346.45" y="205.59" width="2.8" height="2.5" rx="0.6" fill="#ff0000"/>
<rect x="350.30" y="216.20" width="2.8" height="2.5" rx="0.6" fill="#ff0000"/>
<rect x="354.15" y="198.52" width="2.8" height="2.5" rx="0.6" fill="#ff0000"/>
<rect x="358.00" y="198.52" width="2.8" height="2.5" rx="0.6" fill="#ff0000"/>
<rect x="361.84" y="198.52" width="2.8" height="2.5" rx="0.6" fill="#ff0000"/>
<rect x="365.69" y="198.52" width="2.8" height="2.5" rx="0.6" fill="#ff0000"/>
<rect x="369.54" y="187.91" width="2.8" height="2.5" rx="0.6" fill="#ff0000"/>
<rect x="373.39" y="194.98" width="2.8" height="2.5" rx="0.6" fill="#ff0000"/>
<rect x="377.24" y="216.20" width="2.8" height="2.5" rx="0.6" fill="#ff0000"/>
<rect x="381.08" y="202.06" width="2.8" height="2.5" rx="0.6" fill="#ff0000"/>
<rect x="384.93" y="209.13" width="2.8" height="2.5" rx="0.6" fill="#ff0000"/>
<rect x="388.78" y="223.27" width="2.8" height="2.5" rx="0.6" fill="#ff0000"/>
<rect x="392.63" y="219.74" width="2.8" height="2.5" rx="0.6" fill="#ff0000"/>
<rect x="396.48" y="216.20" width="2.8" height="2.5" rx="0.6" fill="#ff0000"/>
<rect x="400.32" y="212.66" width="2.8" height="2.5" rx="0.6" fill="#ff0000"/>
<rect x="404.17" y="191.45" width="2.8" height="2.5" rx="0.6" fill="#ff0000"/>
<rect x="408.02" y="194.98" width="2.8" height="2.5" rx="0.6" fill="#ff0000"/>
<rect x="411.87" y="187.91" width="2.8" height="2.5" rx="0.6" fill="#ff0000"/>
<rect x="415.72" y="216.20" width="2.8" height="2.5" rx="0.6" fill="#ff0000"/>
<rect x="419.56" y="212.66" width="2.8" height="2.5" rx="0.6" fill="#ff0000"/>
<rect x="423.41" y="205.59" width="2.8" height="2.5" rx="0.6" fill="#ff0000"/>
<rect x="427.26" y="202.06" width="2.8" height="2.5" rx="0.6" fill="#ff0000"/>
<rect x="431.11" y="198.52" width="2.8" height="2.5" rx="0.6" fill="#ff0000"/>
<rect x="434.96" y="198.52" width="2.8" height="2.5" rx="0.6" fill="#ff0000"/>
<rect x="438.80" y="194.98" width="2.8" height="2.5" rx="0.6" fill="#ff0000"/>
<rect x="442.65" y="202.06" width="2.8" height="2.5" rx="0.6" fill="#ff0000"/>
<rect x="446.50" y="198.52" width="2.8" height="2.5" rx="0.6" fill="#ff0000"/>
<rect x="450.35" y="202.06" width="2.8" height="2.5" rx="0.6" fill="#ff0000"/>
<rect x="454.20" y="198.52" width="2.8" height="2.5" rx="0.6" fill="#ff0000"/>
<rect x="458.04" y="205.59" width="2.8" height="2.5" rx="0.6" fill="#ff0000"/>
<rect x="461.89" y="191.45" width="2.8" height="2.5" rx="0.6" fill="#ff0000"/>
<rect x="465.74" y="187.91" width="2.8" height="2.5" rx="0.6" fill="#ff0000"/>
<rect x="469.59" y="219.74" width="2.8" height="2.5" rx="0.6" fill="#ff0000"/>
<rect x="473.44" y="198.52" width="2.8" height="2.5" rx="0.6" fill="#ff0000"/>
<rect x="477.28" y="202.06" width="2.8" height="2.5" rx="0.6" fill="#ff0000"/>
<rect x="481.13" y="205.59" width="2.8" height="2.5" rx="0.6" fill="#ff0000"/>
<rect x="484.98" y="198.52" width="2.8" height="2.5" rx="0.6" fill="#ff0000"/>
<rect x="488.83" y="226.81" width="2.8" height="2.5" rx="0.6" fill="#ff0000"/>
<rect x="492.68" y="194.98" width="2.8" height="2.5" rx="0.6" fill="#ff0000"/>
<rect x="496.52" y="216.20" width="2.8" height="2.5" rx="0.6" fill="#ff0000"/>
<rect x="500.37" y="223.27" width="2.8" height="2.5" rx="0.6" fill="#ff0000"/>
<rect x="504.22" y="194.98" width="2.8" height="2.5" rx="0.6" fill="#ff0000"/>
<rect x="508.07" y="226.81" width="2.8" height="2.5" rx="0.6" fill="#ff0000"/>
<rect x="511.92" y="205.59" width="2.8" height="2.5" rx="0.6" fill="#ff0000"/>
<rect x="515.76" y="205.59" width="2.8" height="2.5" rx="0.6" fill="#ff0000"/>
<rect x="519.61" y="202.06" width="2.8" height="2.5" rx="0.6" fill="#ff0000"/>
<rect x="87.4" y="274.3" width="92.2" height="29.8" fill="#fff" stroke="#1a1a1a" stroke-width="1.2"/>
<rect x="100.20" y="281.25" width="2.8" height="2.5" rx="0.6" fill="#0000ff"/>
<rect x="100.20" y="293.85" width="2.8" height="2.5" rx="0.6" fill="#ff0000"/>
<text x="117" y="287" font-family="Liberation Serif, Times New Roman, serif" stroke="#111" stroke-width="0.3" font-size="12" fill="#111" textLength="58" lengthAdjust="spacingAndGlyphs">tetrahedral</text>
<text x="117" y="299.6" font-family="Liberation Serif, Times New Roman, serif" stroke="#111" stroke-width="0.3" font-size="12" fill="#111" textLength="56.6" lengthAdjust="spacingAndGlyphs">octahedral</text>
<text transform="translate(63.80 329.5) scale(1.15 1)" font-family="Liberation Serif, Times New Roman, serif" stroke="#111" stroke-width="0.3" font-size="15" fill="#111" text-anchor="middle">0</text>
<text transform="translate(102.28 329.5) scale(1.15 1)" font-family="Liberation Serif, Times New Roman, serif" stroke="#111" stroke-width="0.3" font-size="15" fill="#111" text-anchor="middle">10</text>
<text transform="translate(140.76 329.5) scale(1.15 1)" font-family="Liberation Serif, Times New Roman, serif" stroke="#111" stroke-width="0.3" font-size="15" fill="#111" text-anchor="middle">20</text>
<text transform="translate(179.24 329.5) scale(1.15 1)" font-family="Liberation Serif, Times New Roman, serif" stroke="#111" stroke-width="0.3" font-size="15" fill="#111" text-anchor="middle">30</text>
<text transform="translate(217.72 329.5) scale(1.15 1)" font-family="Liberation Serif, Times New Roman, serif" stroke="#111" stroke-width="0.3" font-size="15" fill="#111" text-anchor="middle">40</text>
<text transform="translate(256.20 329.5) scale(1.15 1)" font-family="Liberation Serif, Times New Roman, serif" stroke="#111" stroke-width="0.3" font-size="15" fill="#111" text-anchor="middle">50</text>
<text transform="translate(294.68 329.5) scale(1.15 1)" font-family="Liberation Serif, Times New Roman, serif" stroke="#111" stroke-width="0.3" font-size="15" fill="#111" text-anchor="middle">60</text>
<text transform="translate(333.16 329.5) scale(1.15 1)" font-family="Liberation Serif, Times New Roman, serif" stroke="#111" stroke-width="0.3" font-size="15" fill="#111" text-anchor="middle">70</text>
<text transform="translate(371.64 329.5) scale(1.15 1)" font-family="Liberation Serif, Times New Roman, serif" stroke="#111" stroke-width="0.3" font-size="15" fill="#111" text-anchor="middle">80</text>
<text transform="translate(410.12 329.5) scale(1.15 1)" font-family="Liberation Serif, Times New Roman, serif" stroke="#111" stroke-width="0.3" font-size="15" fill="#111" text-anchor="middle">90</text>
<text transform="translate(448.60 329.5) scale(1.15 1)" font-family="Liberation Serif, Times New Roman, serif" stroke="#111" stroke-width="0.3" font-size="15" fill="#111" text-anchor="middle">100</text>
<text transform="translate(487.08 329.5) scale(1.15 1)" font-family="Liberation Serif, Times New Roman, serif" stroke="#111" stroke-width="0.3" font-size="15" fill="#111" text-anchor="middle">110</text>
<text transform="translate(525.56 329.5) scale(1.15 1)" font-family="Liberation Serif, Times New Roman, serif" stroke="#111" stroke-width="0.3" font-size="15" fill="#111" text-anchor="middle">120</text>
<text transform="translate(59.0 168.20) scale(1.13 1)" font-family="Liberation Serif, Times New Roman, serif" stroke="#111" stroke-width="0.3" font-size="14.8" fill="#111" text-anchor="end">0</text>
<text transform="translate(59.0 146.65) scale(1.13 1)" font-family="Liberation Serif, Times New Roman, serif" stroke="#111" stroke-width="0.3" font-size="14.8" fill="#111" text-anchor="end">1</text>
<text transform="translate(59.0 125.10) scale(1.13 1)" font-family="Liberation Serif, Times New Roman, serif" stroke="#111" stroke-width="0.3" font-size="14.8" fill="#111" text-anchor="end">2</text>
<text transform="translate(59.0 103.55) scale(1.13 1)" font-family="Liberation Serif, Times New Roman, serif" stroke="#111" stroke-width="0.3" font-size="14.8" fill="#111" text-anchor="end">3</text>
<text transform="translate(59.0 82.00) scale(1.13 1)" font-family="Liberation Serif, Times New Roman, serif" stroke="#111" stroke-width="0.3" font-size="14.8" fill="#111" text-anchor="end">4</text>
<text transform="translate(59.0 60.45) scale(1.13 1)" font-family="Liberation Serif, Times New Roman, serif" stroke="#111" stroke-width="0.3" font-size="14.8" fill="#111" text-anchor="end">5</text>
<text transform="translate(59.0 38.90) scale(1.13 1)" font-family="Liberation Serif, Times New Roman, serif" stroke="#111" stroke-width="0.3" font-size="14.8" fill="#111" text-anchor="end">6</text>
<text transform="translate(59.0 17.35) scale(1.13 1)" font-family="Liberation Serif, Times New Roman, serif" stroke="#111" stroke-width="0.3" font-size="14.8" fill="#111" text-anchor="end">7</text>
<text transform="translate(59.0 319.90) scale(1.15 1)" font-family="Liberation Serif, Times New Roman, serif" stroke="#111" stroke-width="0.3" font-size="14.8" fill="#111" text-anchor="end">0.2</text>
<text transform="translate(59.0 302.92) scale(1.15 1)" font-family="Liberation Serif, Times New Roman, serif" stroke="#111" stroke-width="0.3" font-size="14.8" fill="#111" text-anchor="end">0.3</text>
<text transform="translate(59.0 285.95) scale(1.15 1)" font-family="Liberation Serif, Times New Roman, serif" stroke="#111" stroke-width="0.3" font-size="14.8" fill="#111" text-anchor="end">0.4</text>
<text transform="translate(59.0 268.97) scale(1.15 1)" font-family="Liberation Serif, Times New Roman, serif" stroke="#111" stroke-width="0.3" font-size="14.8" fill="#111" text-anchor="end">0.5</text>
<text transform="translate(59.0 252.00) scale(1.15 1)" font-family="Liberation Serif, Times New Roman, serif" stroke="#111" stroke-width="0.3" font-size="14.8" fill="#111" text-anchor="end">0.6</text>
<text transform="translate(59.0 235.03) scale(1.15 1)" font-family="Liberation Serif, Times New Roman, serif" stroke="#111" stroke-width="0.3" font-size="14.8" fill="#111" text-anchor="end">0.7</text>
<text transform="translate(59.0 218.05) scale(1.15 1)" font-family="Liberation Serif, Times New Roman, serif" stroke="#111" stroke-width="0.3" font-size="14.8" fill="#111" text-anchor="end">0.8</text>
<text transform="translate(59.0 201.07) scale(1.15 1)" font-family="Liberation Serif, Times New Roman, serif" stroke="#111" stroke-width="0.3" font-size="14.8" fill="#111" text-anchor="end">0.9</text>
<text transform="translate(59.0 184.10) scale(1.15 1)" font-family="Liberation Serif, Times New Roman, serif" stroke="#111" stroke-width="0.3" font-size="14.8" fill="#111" text-anchor="end">1</text>
<text transform="translate(303.4 343.9) scale(1.125 1)" font-family="Liberation Serif, Times New Roman, serif" stroke="#111" stroke-width="0.3" font-size="14.9" fill="#111" text-anchor="middle">Structure index</text>
<text transform="translate(41.4 87.4) rotate(-90) scale(1 1.08)" font-family="Liberation Serif, Times New Roman, serif" stroke="#111" stroke-width="0.3" font-size="14.8" fill="#111" text-anchor="middle">Relative energy (eV)</text>
<text transform="translate(28.8 238.6) rotate(-90) scale(1 1.06)" font-family="Liberation Serif, Times New Roman, serif" stroke="#111" stroke-width="0.3" font-size="14.8" fill="#111" text-anchor="middle">Occupancy</text>
<text transform="translate(4.4 13.7) scale(1.25 1)" font-family="Liberation Serif, Times New Roman, serif" stroke="#111" stroke-width="0.3" font-size="13.6" font-weight="bold" fill="#111">(a)</text>
<text transform="translate(4.4 181.1) scale(1.2 1)" font-family="Liberation Serif, Times New Roman, serif" stroke="#111" stroke-width="0.3" font-size="13.4" font-weight="bold" fill="#111">(b)</text>
</svg>
</body></html>
